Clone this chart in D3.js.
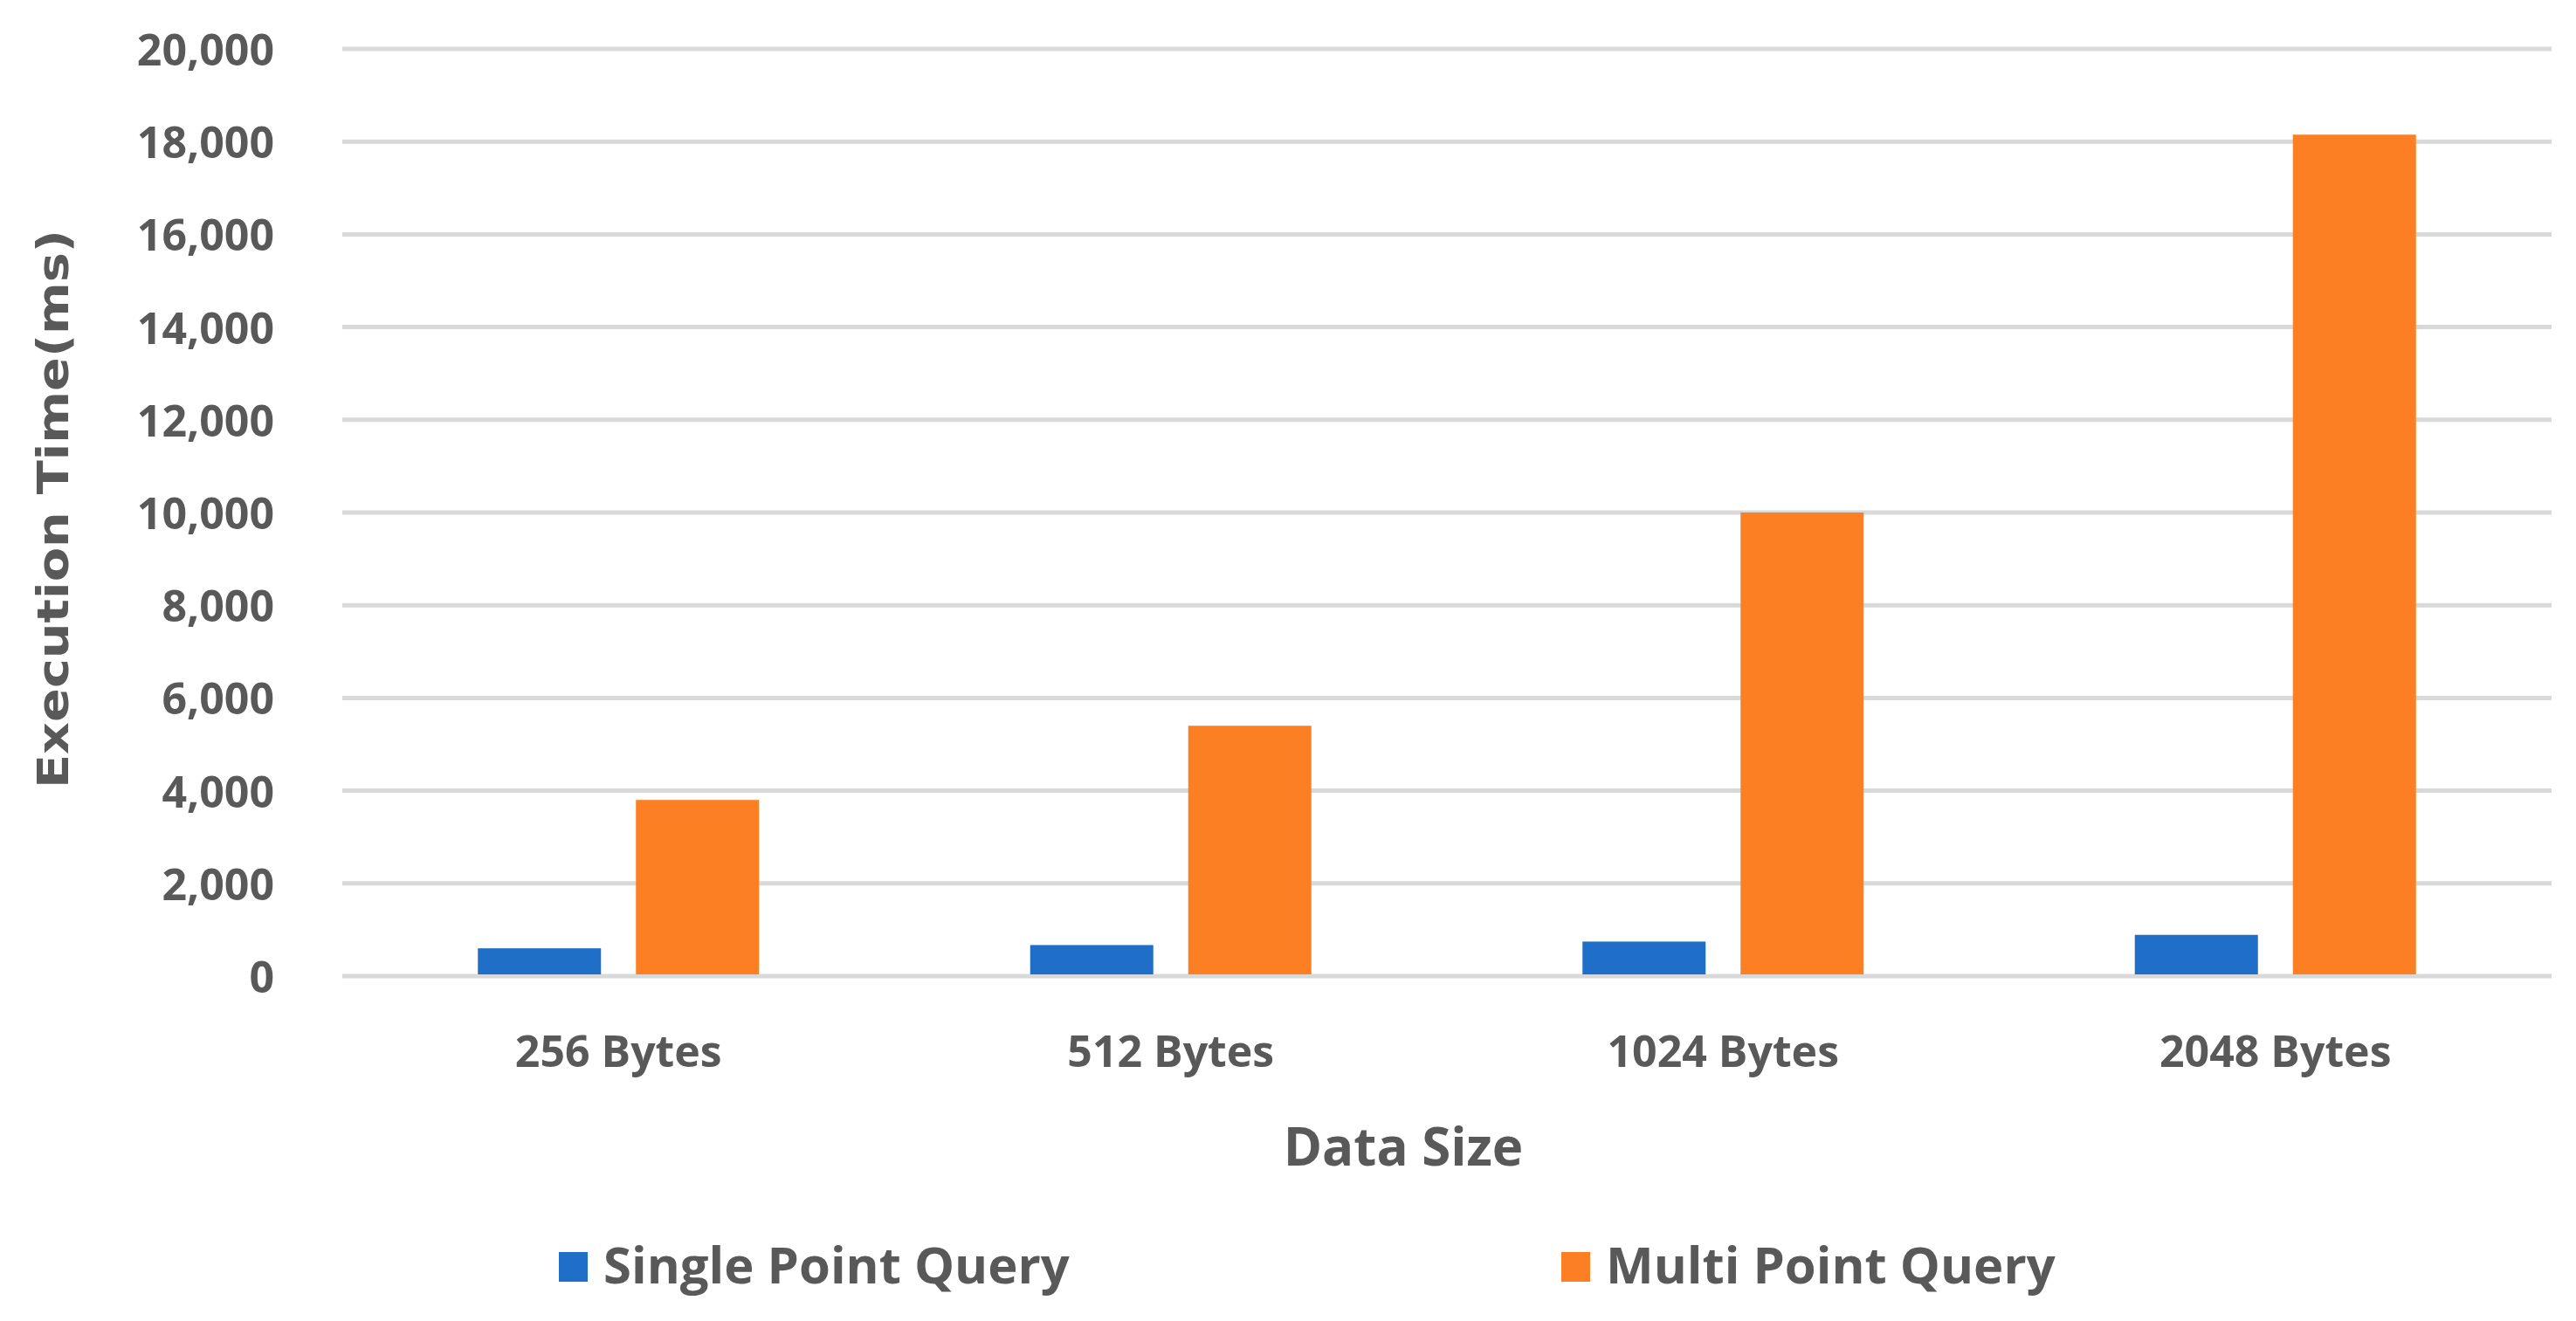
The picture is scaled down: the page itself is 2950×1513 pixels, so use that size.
<!DOCTYPE html>
<html><head><meta charset="utf-8">
<script src="https://cdn.jsdelivr.net/npm/d3@7"></script>
<style>body{margin:0;background:#fff}</style></head>
<body><svg id="c" width="2950" height="1513"></svg>
<script>
const categories = ["256 Bytes","512 Bytes","1024 Bytes","2048 Bytes"];
const seriesNames = ["Single Point Query","Multi Point Query"];
const singleValues = [600, 670, 745, 890];
const multiValues = [3800, 5400, 10000, 18150];
const yTicks = [0,2000,4000,6000,8000,10000,12000,14000,16000,18000,20000];
const colors = ["#1f6fc8","#fd7f23"];

const svg = d3.select("#c");
const L=392,R=2922,T=56,B=1118;
const x = d3.scaleBand().domain(categories).range([L,R]);
const y = d3.scaleLinear().domain([0,20000]).range([B,T]);
const tc = "#595959", font="'Open Sans', sans-serif";

svg.append("g").selectAll("line").data(yTicks).join("line")
  .attr("x1",L).attr("x2",R).attr("y1",d=>y(d)).attr("y2",d=>y(d))
  .attr("stroke","#d9d9d9").attr("stroke-width",5);
svg.append("g").selectAll("text").data(yTicks).join("text")
  .attr("x",314).attr("y",d=>y(d)+19).attr("text-anchor","end")
  .attr("font-family",font).attr("font-weight",700).attr("font-size",50)
  .attr("fill",tc).text(d=>d3.format(",")(d));

const bw=141, gap=40;
const series=[singleValues,multiValues];
series.forEach((vals,si)=>{
  svg.append("g").selectAll("rect").data(vals).join("rect")
    .attr("x",(d,i)=>x(categories[i])+x.bandwidth()/2 - bw - gap/2 + si*(bw+gap))
    .attr("width",bw).attr("y",d=>y(d)).attr("height",d=>B-y(d)-2)
    .attr("fill",colors[si]);
});

svg.append("g").selectAll("text").data(categories).join("text")
  .attr("x",d=>x(d)+x.bandwidth()/2).attr("y",1222).attr("text-anchor","middle")
  .attr("font-family",font).attr("font-weight",700).attr("font-size",50)
  .attr("fill",tc).text(d=>d);

svg.append("text").attr("x",1607).attr("y",1335).attr("text-anchor","middle")
  .attr("font-family",font).attr("font-weight",700).attr("font-size",60)
  .attr("fill",tc).text("Data Size");

svg.append("text").attr("transform","translate(78,583) rotate(-90)").attr("text-anchor","middle")
  .attr("font-family","'DejaVu Sans', sans-serif").attr("font-weight",700).attr("font-size",50)
  .attr("textLength",640).attr("lengthAdjust","spacingAndGlyphs")
  .attr("fill",tc).text("Execution Time(ms)");

const lx=[640,1788];
seriesNames.forEach((n,i)=>{
  svg.append("rect").attr("x",lx[i]).attr("y",1434).attr("width",33).attr("height",34).attr("fill",colors[i]);
  svg.append("text").attr("x",lx[i]+51).attr("y",1470)
    .attr("font-family",font).attr("font-weight",700).attr("font-size",58)
    .attr("fill",tc).text(n);
});
</script></body></html>
